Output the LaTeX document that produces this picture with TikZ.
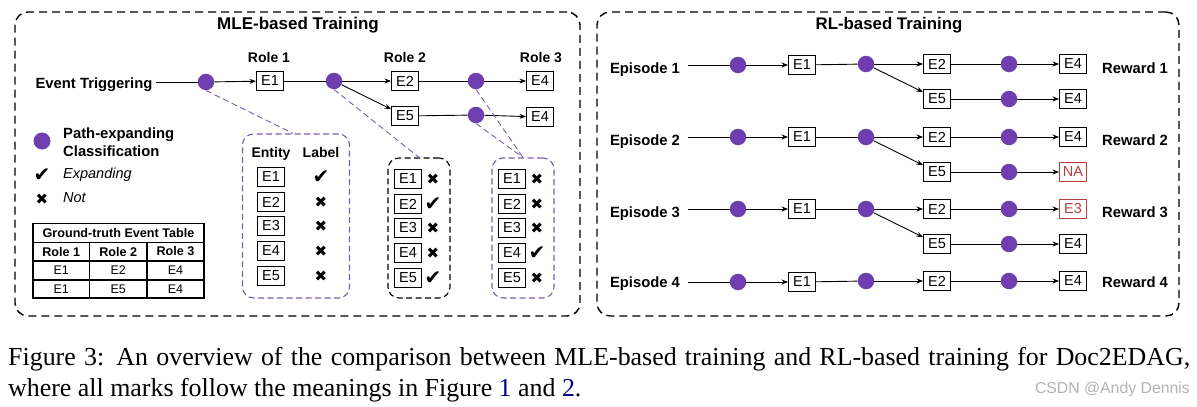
\documentclass[tikz,border=0pt]{standalone}
\usepackage{fontspec}
\setmainfont{Liberation Sans}
\newfontfamily\capfont{Liberation Serif}
\newfontfamily\markfont{DejaVu Sans}
\usetikzlibrary{arrows.meta}
\definecolor{pur}{HTML}{6F3FAF}
\definecolor{dashpur}{HTML}{7A5CB0}
\definecolor{redbox}{HTML}{B5403C}
\newcommand{\fs}[1]{\fontsize{#1pt}{#1pt}\selectfont}
\tikzset{
 ebox/.style={draw=black,line width=0.9pt,minimum width=27pt,minimum height=19pt,inner sep=0pt,font=\fs{14.5}},
 nabox/.style={ebox,draw=redbox,text=redbox},
 dot/.style={circle,fill=pur,minimum size=16.5pt,inner sep=0pt},
 lab/.style={font=\fs{14.8}\bfseries,inner sep=0pt,text height=0.72em,text depth=0pt,yshift=-1.5pt},
 slab/.style={lab,font=\fs{14}\bfseries},
 plain/.style={draw=black,line width=0.9pt},
 conn/.style={plain,-{Stealth[length=6.5pt,width=5pt]}},
 outerbox/.style={draw=black,line width=1.4pt,dash pattern=on 8pt off 5pt,rounded corners=13pt,inner sep=0pt},
 purbox/.style={draw=dashpur,line width=1.1pt,dash pattern=on 6pt off 3.5pt,rounded corners=11pt,inner sep=0pt},
 blkbox/.style={draw=black,line width=1.1pt,dash pattern=on 6pt off 3.5pt,rounded corners=11pt,inner sep=0pt},
 purline/.style={draw=dashpur,line width=0.9pt,dash pattern=on 6pt off 3.5pt},
 ck/.style={font=\markfont\fs{20},inner sep=0pt},
 xx/.style={font=\markfont\fs{15},inner sep=0pt},
 tcell/.style={draw=black,line width=1.2pt,inner sep=0pt,font=\fs{12.5}},
 thead/.style={tcell,font=\fs{12.6}\bfseries},
}
\begin{document}
\begin{tikzpicture}[x=1pt,y=-1pt]
\useasboundingbox (0,0) rectangle (1197,407);
% outer frames
\node[outerbox,minimum width=565pt,minimum height=304pt] (mle) at (297.5,164) {};
\node[outerbox,minimum width=582pt,minimum height=304pt] (rl) at (888,164) {};
\node[font=\fs{17}\bfseries,inner sep=0pt] (mlet) at (298,25) {MLE-based Training};
\node[font=\fs{16.8}\bfseries,inner sep=0pt] (rlt) at (889,25) {RL-based Training};
% MLE graph
\node[lab] (et) at (94,83) {Event Triggering};
\node[slab] (r1) at (269,57) {Role 1};
\node[slab] (r2) at (405,57) {Role 2};
\node[slab] (r3) at (541,57) {Role 3};
\node[dot] (m1) at (206,82) {};
\node[ebox] (me1) at (270,81) {E1};
\node[dot] (m2) at (334,81) {};
\node[ebox] (me2) at (405,81) {E2};
\node[ebox] (me5) at (405,116) {E5};
\node[dot] (m3) at (476,81) {};
\node[dot] (m4) at (476,115) {};
\node[ebox] (me4) at (540,81) {E4};
\node[ebox] (me4b) at (540,117) {E4};
\draw[plain] ([xshift=3pt]et.east |- m1) -- (m1);
\draw[conn] (m1) -- (me1);
\draw[plain] (me1) -- (m2);
\draw[conn] (m2) -- (me2);
\draw[conn] (m2) -- (me5);
\draw[plain] (me2) -- (m3);
\draw[plain] (me5) -- (m4);
\draw[conn] (m3) -- (me4);
\draw[conn] (m4) -- (me4b);
% legend
\node[dot,minimum size=17pt] (ld) at (42,141) {};
\node[lab,anchor=west] (lt1) at (63,133) {Path-expanding};
\node[lab,anchor=west] (lt2) at (63,151) {Classification};
\node[ck] (lck) at (42,175) {✔};
\node[anchor=west,font=\fs{14.5}\itshape,inner sep=0pt] (lexp) at (63,175) {Expanding};
\node[xx] (lx) at (42,199) {✖};
\node[anchor=west,font=\fs{14.5}\itshape,inner sep=0pt] (lnot) at (63,198) {Not};
% table
\node[thead,minimum width=171pt,minimum height=18.5pt] (th) at (118.5,233) {Ground-truth Event Table};
\foreach \n/\x/\w/\t in {a/61.25/56.5/Role 1,b/118.25/57.5/Role 2,c/175.5/57/Role 3}{
 \node[thead,minimum width=\w pt,minimum height=18.5pt] (th\n) at (\x,251.5) {\t};
}
\foreach \n/\x/\w/\t in {a/61.25/56.5/E1,b/118.25/57.5/E2,c/175.5/57/E4}{
 \node[tcell,minimum width=\w pt,minimum height=19pt] (ta\n) at (\x,270.5) {\t};
}
\foreach \n/\x/\w/\t in {a/61.25/56.5/E1,b/118.25/57.5/E5,c/175.5/57/E4}{
 \node[tcell,minimum width=\w pt,minimum height=18pt] (tb\n) at (\x,289) {\t};
}
% dashed detail boxes
\node[purbox,minimum width=107pt,minimum height=164pt] (b1) at (296,216) {};
\node[blkbox,minimum width=62pt,minimum height=140pt] (b2) at (419,228) {};
\node[purbox,minimum width=62pt,minimum height=140pt] (b3) at (523,228) {};
\draw[purline] (m1.south) -- ([xshift=-3pt]b1.north);
\draw[purline] (m2.south) -- (b2.north);
\draw[purline] (m3.south) -- (b3.north);
\draw[purline] (m4.south) -- (b3.north);
\node[slab] (hent) at (271,152) {Entity};
\node[slab] (hlab) at (321,152) {Label};
\foreach \i/\y/\m in {1/177/ck,2/202/xx,3/226/xx,4/251/xx,5/276/xx}{
 \node[ebox] (ba\i) at (271,\y) {E\i};
 \node[\m] (ma\i) at (321,\y) {\ifnum\i=1 ✔\else ✖\fi};
}
\foreach \i/\y/\m in {1/179/xx,2/204/ck,3/228/xx,4/253/xx,5/278/ck}{
 \node[ebox] (bb\i) at (408,\y) {E\i};
 \node[\m] (mb\i) at (433,\y) {\ifnum\i=2 ✔\else\ifnum\i=5 ✔\else ✖\fi\fi};
}
\foreach \i/\y/\m in {1/179/xx,2/204/xx,3/228/xx,4/253/ck,5/278/xx}{
 \node[ebox] (bc\i) at (512,\y) {E\i};
 \node[\m] (mc\i) at (537,\y) {\ifnum\i=4 ✔\else ✖\fi};
}
% RL graph: rows
\foreach \p/\ep/\y/\ly/\rw/\top/\bot/\ytop/\ybot/\topst/\botst in {
 a/1/65/68/1/E4/E4/64/99/ebox/ebox,
 b/2/137/140/2/E4/NA/137/172/ebox/nabox,
 c/3/209/212/3/E3/E4/209/244/nabox/ebox}{
 \node[lab] (ep\p) at (645,\ly) {Episode \ep};
 \node[lab] (rw\p) at (1135,\ly) {Reward \rw};
 \node[dot] (\p c1) at (738,\y) {};
 \node[ebox] (\p e1) at (802,\y) {E1};
 \node[dot] (\p c2) at (866,\ytop) {};
 \node[ebox] (\p e2) at (937,\ytop) {E2};
 \node[ebox] (\p e5) at (937,\ybot) {E5};
 \node[dot] (\p c3) at (1009,\ytop) {};
 \node[dot] (\p c4) at (1009,\ybot) {};
 \node[\topst] (\p t) at (1073,\ytop) {\top};
 \node[\botst] (\p b) at (1073,\ybot) {\bot};
 \draw[plain] ([xshift=8pt]ep\p.east |- \p c1) -- (\p c1);
 \draw[conn] (\p c1) -- (\p e1);
 \draw[plain] (\p e1) -- (\p c2);
 \draw[conn] (\p c2) -- (\p e2);
 \draw[conn] (\p c2) -- (\p e5);
 \draw[plain] (\p e2) -- (\p c3);
 \draw[plain] (\p e5) -- (\p c4);
 \draw[conn] (\p c3) -- (\p t);
 \draw[conn] (\p c4) -- (\p b);
}
\node[lab] (epd) at (645,282) {Episode 4};
\node[lab] (rwd) at (1135,282) {Reward 4};
\node[dot] (dc1) at (738,282) {};
\node[ebox] (de1) at (802,282) {E1};
\node[dot] (dc2) at (866,281) {};
\node[ebox] (de2) at (937,281) {E2};
\node[dot] (dc3) at (1009,281) {};
\node[ebox] (dt) at (1073,281) {E4};
\draw[plain] ([xshift=8pt]epd.east |- dc1) -- (dc1);
\draw[conn] (dc1) -- (de1);
\draw[plain] (de1) -- (dc2);
\draw[conn] (dc2) -- (de2);
\draw[plain] (de2) -- (dc3);
\draw[conn] (dc3) -- (dt);
% caption
\node[anchor=base west,inner sep=0pt,font=\capfont\fs{25.9}] (cap1) at (8,365) {\makebox[1182pt][s]{Figure 3: An overview of the comparison between MLE-based training and RL-based training for Doc2EDAG,}};
\node[anchor=base west,inner sep=0pt,font=\capfont\fs{25.9}] (cap2) at (8,396) {where all marks follow the meanings in Figure \textcolor{blue!50!black}{1} and \textcolor{blue!50!black}{2}.};
\node[anchor=east,inner sep=0pt,text=black!30,font=\fs{15.8}] (wm) at (1190,389) {CSDN @Andy Dennis};
\end{tikzpicture}
\end{document}
